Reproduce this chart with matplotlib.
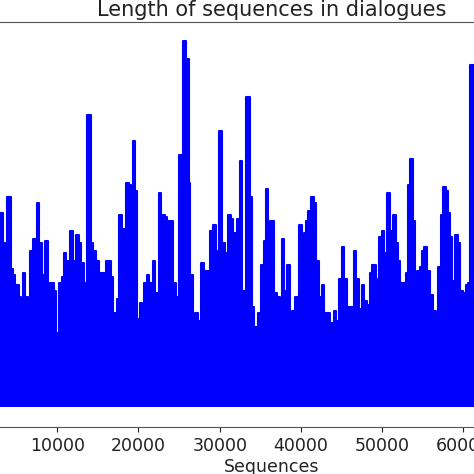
import numpy as np
import matplotlib
matplotlib.use("Agg")
import matplotlib.pyplot as plt

# start of each stretch of sequences (index) and the peak length reached there
seg_start = [0, 2943, 3271, 3518, 3846, 4257, 4503, 4749, 5324, 5570, 5734, 6063, 6391,
             6638, 7048, 7459, 7787, 8115, 8444, 8854, 9183, 9593, 9840, 10250, 10578,
             10825, 11071, 11564, 11974, 12302, 12631, 12959, 13288, 13698, 14109, 14437,
             14765, 15094, 15997, 16572, 16900, 17311, 17639, 17967, 18296, 18460, 18788,
             19117, 19281, 19609, 19856, 20184, 20677, 21005, 21333, 21744, 22072, 22483,
             22811, 23222, 23550, 23879, 24289, 24617, 25028, 25356, 25521, 25849, 26177,
             26342, 26670, 26998, 27327, 27655, 28066, 28805, 29215, 29543, 29872, 30282,
             30611, 31021, 31349, 31678, 32130, 32458, 32787, 33279, 33772, 34018, 34183,
             34675, 35086, 35414, 35660, 35989, 36235, 36728, 37056, 37384, 37631, 37959,
             38288, 38616, 38944, 39273, 39765, 40094, 40340, 40586, 40915, 41243, 41654,
             41900, 42228, 42557, 42885, 43214, 43542, 43788, 44117, 44363, 44691, 45020,
             45348, 45677, 46498, 46826, 47154, 47483, 47811, 48140, 48468, 48796, 49207,
             49617, 49946, 50274, 50603, 51013, 51341, 51670, 51916, 52245, 52573, 52901,
             53230, 53476, 53804, 54051, 54297, 54625, 54954, 55200, 55529, 55939, 56268,
             56596, 56924, 57253, 57499, 57828, 58156, 58402, 58649, 58977, 59306, 59634,
             59962, 60291, 60537, 60783, 61400, 62500, 64000, 66000, 68000, 70000]
seg_peak = [90, 98, 83, 82, 106, 70, 67, 62, 56, 51, 68, 56, 49,
            79, 85, 103, 83, 67, 84, 63, 63, 59, 38, 63, 66,
            78, 74, 89, 74, 87, 83, 73, 63, 147, 83, 79,
            74, 68, 74, 66, 48, 55, 97, 90, 51, 113, 112,
            89, 134, 109, 45, 53, 63, 67, 63, 74, 58, 108,
            97, 96, 94, 94, 63, 56, 127, 112, 184, 175, 113,
            67, 40, 48, 44, 73, 69, 89, 92, 79, 139, 83,
            78, 97, 95, 88, 95, 124, 59, 156, 106, 51, 41,
            48, 72, 84, 110, 79, 94, 58, 56, 53, 85, 59,
            72, 38, 49, 56, 92, 73, 88, 94, 99, 106, 103,
            74, 56, 62, 48, 48, 43, 43, 49, 44, 65, 81,
            65, 51, 79, 65, 50, 62, 54, 52, 68, 72, 65,
            86, 89, 78, 108, 89, 97, 83, 74, 63, 63, 68,
            112, 125, 94, 64, 69, 71, 79, 81, 69, 57, 49,
            48, 71, 97, 111, 109, 98, 86, 64, 87, 83, 59,
            58, 62, 63, 172, 80, 95, 70, 85, 60, 75]
seq_end = 72900
low = 1
xticks = [0, 10000, 20000, 30000, 40000, 50000, 60000, 70000]

x = np.append(seg_start, seq_end)
y = np.append(seg_peak, seg_peak[-1])

fig = plt.figure(figsize=(4.74, 4.74), dpi=100)
# axes wider than the figure: the picture is a crop of a bigger chart
ax = fig.add_axes([-53.5 / 474, 47 / 474, 651 / 474, 405 / 474])
ax.fill_between(x, low, y, step="post", color="blue", lw=0)
ax.step(x, y, where="post", color="blue", lw=1.5)
ax.set_xlim(-3644, 76524)
ax.set_ylim(-9.2, 193.3)
ax.set_xticks(xticks)
ax.tick_params(labelsize=12.5, colors="#222222")
for s in ax.spines.values():
    s.set_color("#555555")
ax.set_xlabel("Sequences", fontsize=12.5, labelpad=2, color="#222222")
ax.set_title("Length of sequences in dialogues", fontsize=15, color="#222222", pad=4)
fig.savefig("out.png", dpi=100)
